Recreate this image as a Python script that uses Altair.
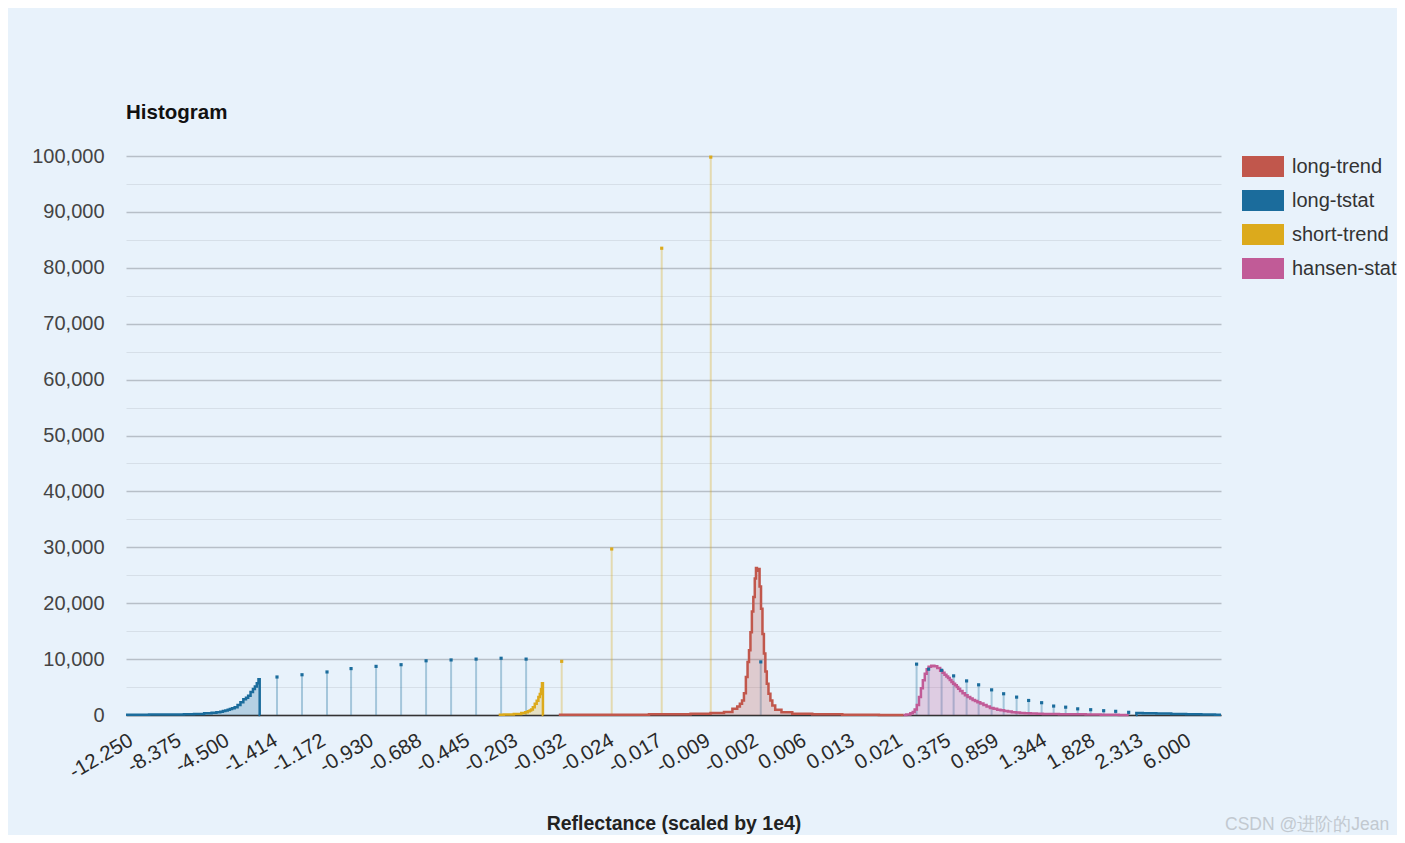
import altair as alt
import pandas as pd

# ---------------- data ----------------
x_labels = ["-12.250", "-8.375", "-4.500", "-1.414", "-1.172", "-0.930", "-0.688",
            "-0.445", "-0.203", "-0.032", "-0.024", "-0.017", "-0.009", "-0.002",
            "0.006", "0.013", "0.021", "0.375", "0.859", "1.344", "1.828", "2.313", "6.000"]

series_names = ["long-trend", "long-tstat", "short-trend", "hansen-stat"]
series_colors = ["#c1574c", "#1b6c9c", "#dcaa1c", "#c15b97"]

# long-trend curve (position in label units, pixel count)
trend_pos = [9.00, 10.25, 11.50, 11.98, 12.33, 12.54, 12.68, 12.74, 12.79, 12.83, 12.87,
             12.91, 12.94, 12.97, 13.00, 13.03, 13.06, 13.09, 13.11, 13.13, 13.16, 13.19,
             13.22, 13.25, 13.28, 13.31, 13.34, 13.38, 13.42, 13.46, 13.54, 13.72, 13.99,
             14.55, 15.24, 16.07, 16.17]
trend_cnt = [50, 60, 120, 240, 360, 540, 1130, 1500, 2030, 2600, 3900,
             6800, 9500, 11600, 14800, 18500, 21100, 24400, 26300, 25800, 26100, 23000,
             19000, 14500, 11000, 7800, 5600, 3800, 2600, 1700, 950, 480, 240,
             120, 60, 20, 0]

# long-tstat: left curve, right tail and single-bucket spikes
tstat_left_pos = [0.00, 0.27, 0.69, 1.10, 1.31, 1.52, 1.73, 1.83, 1.93, 1.99, 2.04, 2.09,
                  2.14, 2.18, 2.23, 2.29, 2.35, 2.41, 2.47, 2.52, 2.56, 2.62, 2.66, 2.70,
                  2.74, 2.77, 2.79]
tstat_left_cnt = [60, 60, 70, 90, 120, 200, 320, 400, 480, 580, 700, 820,
                  950, 1080, 1200, 1400, 1800, 2270, 2800, 3100, 3460, 4100, 4650, 5100,
                  5700, 6400, 0]
tstat_tail_pos = [21.00, 21.02, 21.27, 21.58, 21.89, 22.20, 22.52, 22.77]
tstat_tail_cnt = [0, 350, 300, 250, 200, 150, 100, 60]
tstat_spike_pos = [3.14, 3.66, 4.18, 4.68, 5.20, 5.72, 6.24, 6.76, 7.28, 7.80, 8.32,
                   13.20, 16.44, 16.69, 16.96, 17.21, 17.48, 17.73, 18.00, 18.25,
                   18.52, 18.77, 19.04, 19.29, 19.54, 19.79, 20.06, 20.33, 20.58, 20.85]
tstat_spike_cnt = [6800, 7200, 7700, 8300, 8700, 9000, 9700, 9850, 10000, 10150, 10000,
                   9500, 9100, 8200, 8000, 7000, 6100, 5400, 4500, 3800,
                   3200, 2600, 2200, 1600, 1400, 1100, 950, 770, 660, 480]

# short-trend curve and spikes
short_pos = [7.75, 7.96, 8.17, 8.27, 8.33, 8.38, 8.41, 8.44, 8.48, 8.52, 8.56, 8.59,
             8.62, 8.64, 8.66, 8.68]
short_cnt = [30, 80, 180, 350, 480, 660, 820, 1000, 1370, 2000, 2560, 3200,
             3760, 4600, 5700, 0]
short_spike_pos = [9.06, 10.10, 11.14, 12.16]
short_spike_cnt = [9600, 29700, 83500, 99800]

# hansen-stat curve
hansen_pos = [16.17, 16.28, 16.34, 16.38, 16.42, 16.47, 16.51, 16.55, 16.59, 16.63,
              16.67, 16.71, 16.78, 16.84, 16.90, 16.96, 17.00, 17.04, 17.08, 17.11,
              17.15, 17.18, 17.22, 17.26, 17.29, 17.32, 17.37, 17.42, 17.47, 17.53,
              17.58, 17.63, 17.68, 17.73, 17.80, 17.86, 17.93, 18.00, 18.08, 18.15,
              18.22, 18.30, 18.38, 18.46, 18.55, 18.63, 18.75, 18.88, 19.00, 19.13,
              19.30, 19.50, 19.65, 19.81, 20.10, 20.44, 20.85]
hansen_cnt = [0, 100, 300, 540, 1000, 1800, 3200, 4800, 6200, 7400,
              8200, 8650, 8800, 8700, 8400, 7900, 7550, 7200, 6900, 6600,
              6250, 5900, 5600, 5300, 5000, 4700, 4300, 3900, 3550, 3200,
              2950, 2700, 2500, 2300, 2050, 1800, 1520, 1250, 1100, 950,
              830, 720, 610, 500, 430, 360, 300, 250, 210, 180,
              160, 140, 130, 120, 90, 60, 0]

watermark = "CSDN @进阶的Jean"

# ---------------- tables ----------------
curve_rows = []
for name, seg, pos, cnt in [
    ("long-trend", "t1", trend_pos, trend_cnt),
    ("long-tstat", "s1", tstat_left_pos, tstat_left_cnt),
    ("long-tstat", "s2", tstat_tail_pos, tstat_tail_cnt),
    ("short-trend", "g1", short_pos, short_cnt),
    ("hansen-stat", "h1", hansen_pos, hansen_cnt),
]:
    for p, c in zip(pos, cnt):
        curve_rows.append({"series": name, "seg": seg, "pos": p, "count": c})
curves = pd.DataFrame(curve_rows)

spike_rows = []
for name, pos, cnt in [
    ("long-tstat", tstat_spike_pos, tstat_spike_cnt),
    ("short-trend", short_spike_pos, short_spike_cnt),
]:
    for p, c in zip(pos, cnt):
        spike_rows.append({"series": name, "pos": p, "count": c})
spikes = pd.DataFrame(spike_rows)

FONT = "Liberation Sans"
label_array = "[" + ",".join("'" + s + "'" for s in x_labels) + "]"

x_enc = alt.X(
    "pos:Q",
    scale=alt.Scale(domain=[0, 22.77], nice=False, zero=False),
    axis=alt.Axis(
        values=list(range(len(x_labels))),
        labelExpr=label_array + "[datum.value]",
        labelAngle=-30, labelAlign="right", labelBaseline="top",
        labelPadding=15, labelFontSize=20.5, labelColor="#2a2a2a", labelFont=FONT,
        labelOverlap=False, labelBound=False, labelFlush=False,
        ticks=False, grid=False,
        domainColor="#333333", domainWidth=1.5,
        title="Reflectance (scaled by 1e4)", titleFontSize=19.5, titleFont=FONT,
        titleFontWeight="bold", titleColor="#222222", titlePadding=32,
    ),
)

y_enc = alt.Y(
    "count:Q",
    stack=None,
    scale=alt.Scale(domain=[0, 100000], nice=False),
    axis=alt.Axis(
        values=list(range(0, 100001, 5000)),
        labelExpr="datum.value % 10000 === 0 ? format(datum.value, ',') : ''",
        labelFontSize=20, labelColor="#444444", labelFont=FONT, labelPadding=22,
        ticks=False, domain=False, title=None,
        gridColor=alt.condition("datum.value % 10000 === 0",
                                alt.value("#b7bfc8"), alt.value("#d6dfe8")),
        gridWidth=alt.condition("datum.value % 10000 === 0",
                                alt.value(1.5), alt.value(1.2)),
    ),
)

scale = alt.Scale(domain=series_names, range=series_colors)
legend_spec = alt.Legend(
    title=None, orient="none", legendX=1116, legendY=0, padding=0,
    symbolType="M-1,-1H3V1H-1Z", symbolSize=441, symbolOpacity=1,
    symbolStrokeWidth=0, labelFontSize=20, labelFont=FONT, labelColor="#333333",
    labelOffset=29, rowPadding=13, labelLimit=200,
)
color_enc = alt.Color("series:N", scale=scale, legend=legend_spec)

# legend carrier (filled symbols, invisible on the plot)
legend_layer = alt.Chart(curves).mark_square(opacity=0, filled=True, size=1).encode(
    x=x_enc, y=y_enc, color=color_enc)

spike_rules = alt.Chart(spikes).mark_rule(strokeWidth=2, opacity=0.33).encode(
    x=x_enc, y=y_enc, y2=alt.datum(0), color=color_enc)

areas = alt.Chart(curves).mark_area(opacity=0.25, interpolate="step").encode(
    x=x_enc, y=y_enc, color=color_enc, detail="seg:N")

lines = alt.Chart(curves).mark_line(strokeWidth=2.5, interpolate="step").encode(
    x=x_enc, y=y_enc, color=color_enc, detail="seg:N")

spike_tops = alt.Chart(spikes).mark_square(size=10, opacity=1, filled=True).encode(
    x=x_enc, y=y_enc, color=color_enc)

wm = alt.Chart(pd.DataFrame({"t": [watermark]})).mark_text(
    align="left", baseline="middle", fontSize=17.5, font=FONT, color="#c2c9d0"
).encode(text="t:N", x=alt.value(1099), y=alt.value(669))

chart = alt.layer(legend_layer, spike_rules, areas, lines, spike_tops, wm).properties(
    width=1095, height=559,
    autosize="none",
    padding={"left": 118, "top": 148, "right": 176, "bottom": 120},
    background="#e8f2fb",
    title=alt.TitleParams("Histogram", anchor="start", frame="group", fontSize=20.5,
                          fontWeight="bold", color="#111111", font=FONT,
                          baseline="bottom", offset=3),
).configure_view(stroke=None)

chart.save("out.html", embed_options={"renderer": "svg", "actions": False})
